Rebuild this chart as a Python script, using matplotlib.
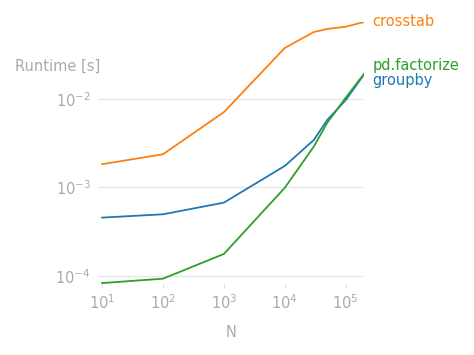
import matplotlib
matplotlib.use("Agg")
import matplotlib.pyplot as plt
from matplotlib.ticker import NullLocator

# benchmark sizes and runtimes (seconds)
N = [10, 100, 1000, 10000, 30000, 50000, 100000, 200000]
crosstab = [1.83e-3, 2.37e-3, 7.1e-3, 0.0377, 0.0571, 0.0618, 0.0655, 0.0741]
groupby = [4.56e-4, 4.97e-4, 6.73e-4, 1.75e-3, 3.44e-3, 5.8e-3, 9.7e-3, 0.0189]
factorize = [8.3e-5, 9.3e-5, 1.77e-4, 9.9e-4, 2.9e-3, 5.4e-3, 0.0103, 0.0192]

grey = "#aaaaaa"
plt.rcParams["font.family"] = "DejaVu Sans"
plt.rcParams["font.size"] = 10

fig = plt.figure(figsize=(4.74, 3.55), dpi=100)
ax = fig.add_axes([99 / 474, 71 / 355, 265 / 474, 262 / 355])

ax.plot(N, crosstab, color="#ff7f0e", lw=1.3)
ax.plot(N, groupby, color="#1f77b4", lw=1.3)
ax.plot(N, factorize, color="#2ca02c", lw=1.3)

ax.set_xscale("log")
ax.set_yscale("log")
ax.set_xlim(8.9, 2e5)
ax.set_ylim(8.1e-5, 0.0741)
ax.xaxis.set_minor_locator(NullLocator())
ax.yaxis.set_minor_locator(NullLocator())

for s in ax.spines.values():
    s.set_visible(False)
ax.yaxis.grid(True, color="#e6e6e6", lw=1)
ax.set_axisbelow(True)
ax.tick_params(axis="y", length=0, pad=6, labelcolor=grey, labelsize=10.5)
ax.tick_params(axis="x", length=3, width=0.8, color="#dddddd", pad=4,
               labelcolor=grey, labelsize=10.5)

ax.set_xlabel("N", color=grey, fontsize=10.5, labelpad=9)
fig.text(15 / 474, 1 - 66 / 355, "Runtime [s]", color=grey, fontsize=10.5,
         va="center", ha="left")

# series labels at the right end of each line
ax.annotate("crosstab", xy=(N[-1], crosstab[-1]), xytext=(6, 0),
            textcoords="offset points", va="center", color="#ff7f0e",
            fontsize=10.5, annotation_clip=False)
ax.annotate("pd.factorize", xy=(N[-1], factorize[-1]), xytext=(6, 6),
            textcoords="offset points", va="center", color="#2ca02c",
            fontsize=10.5, annotation_clip=False)
ax.annotate("groupby", xy=(N[-1], groupby[-1]), xytext=(6, -4),
            textcoords="offset points", va="center", color="#1f77b4",
            fontsize=10.5, annotation_clip=False)

fig.savefig("out.png", dpi=100)
